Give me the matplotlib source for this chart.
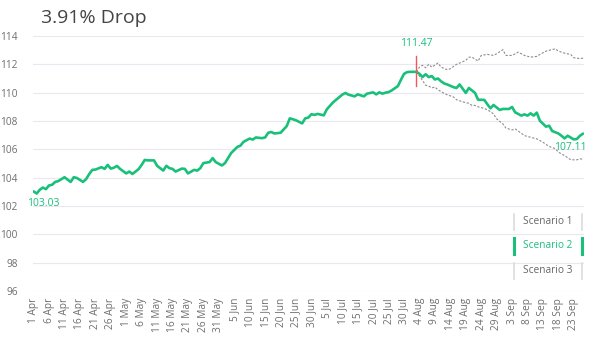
import numpy as np
import pandas as pd
import matplotlib
matplotlib.use("Agg")
import matplotlib.pyplot as plt

plt.rcParams['font.family'] = ['Open Sans', 'DejaVu Sans']

# start of the series
start = pd.Timestamp("2024-04-01")

# actual index (scenario 2 history + projection), day offset from 1 Apr
green_days = [0, 1, 2, 3, 4, 5, 6, 7, 8, 10, 12, 13, 14, 16, 17, 18, 19, 20, 22, 23,
              24, 25, 26, 27, 28, 30, 31, 32, 34, 35, 36, 37, 39, 40, 42, 43, 44, 45, 46, 48,
              49, 50, 52, 53, 54, 55, 57, 58, 59, 61, 62, 64, 66, 67, 68, 70, 71, 72, 73, 74,
              75, 76, 77, 78, 80, 82, 83, 85, 87, 88, 89, 90, 91, 92, 94, 95, 97, 98, 100, 101,
              102, 104, 105, 107, 108, 110, 111, 112, 113, 114, 115, 116, 118, 119, 120, 121, 122, 124,
              125, 126, 127, 128, 129, 130, 131, 132, 133, 134, 136, 137, 138, 140, 141, 143, 144, 146,
              147, 148, 149, 151, 152, 154, 155, 156, 158, 159, 160, 161, 162, 163, 164, 166, 167, 168,
              170, 171, 172, 173, 175, 176, 177, 178]
green_vals = [103.03, 102.88, 103.15, 103.30, 103.19, 103.45, 103.50, 103.70, 103.76, 104.03,
              103.70, 104.03, 103.98, 103.70, 103.90, 104.25, 104.55, 104.57, 104.74, 104.62,
              104.90, 104.64, 104.70, 104.83, 104.62, 104.30, 104.43, 104.26, 104.60, 104.90,
              105.25, 105.22, 105.22, 104.84, 104.50, 104.84, 104.67, 104.62, 104.43, 104.64,
              104.62, 104.30, 104.55, 104.50, 104.67, 105.03, 105.10, 105.38, 105.10, 104.86,
              105.03, 105.74, 106.17, 106.26, 106.53, 106.76, 106.69, 106.84, 106.81, 106.79,
              106.84, 107.17, 107.22, 107.12, 107.17, 107.64, 108.19, 108.05, 107.83, 108.19,
              108.24, 108.48, 108.43, 108.50, 108.40, 108.83, 109.31, 109.50, 109.86, 109.98,
              109.86, 109.74, 109.88, 109.74, 109.93, 110.02, 109.88, 110.02, 109.93, 110.00,
              110.04, 110.16, 110.46, 110.91, 111.33, 111.45, 111.47, 111.47,
              111.33, 111.10, 111.30, 111.10, 111.17, 110.93, 111.00, 110.80, 110.65, 110.58,
              110.39, 110.33, 110.58, 109.98, 110.33, 109.98, 109.50, 109.49,
              109.18, 108.90, 109.13, 108.78, 108.85, 108.85, 108.99, 108.61, 108.38, 108.47,
              108.38, 108.54, 108.38, 108.59, 108.02, 107.60, 107.67, 107.29,
              107.12, 106.96, 106.77, 106.96, 106.70, 106.73, 106.96, 107.11]

# scenario 1 (upper) and scenario 3 (lower) projections from the peak
s1_days = [124, 125, 126, 127, 128, 129, 131, 132, 134, 135, 137, 138, 140, 141, 142, 144, 145,
           147, 149, 150, 152, 153, 155, 157, 159, 161, 163, 164, 166, 169, 170, 172, 174, 175,
           177, 178]
s1_vals = [111.47, 111.80, 111.93, 111.76, 112.00, 111.80, 112.09, 111.80, 111.62, 111.69,
           112.00, 112.09, 112.28, 112.50, 112.51, 112.23, 112.63, 112.70, 112.63, 112.75,
           113.03, 112.63, 112.63, 112.86, 112.63, 112.51, 112.56, 112.70, 112.93, 113.10,
           112.93, 112.79, 112.70, 112.47, 112.40, 112.44]

s3_days = [124, 125, 126, 127, 128, 129, 130, 131, 133, 134, 136, 137, 139, 141, 142, 143, 144,
           145, 147, 149, 150, 152, 153, 155, 156, 158, 159, 161, 163, 165, 167, 169, 170, 172,
           174, 176, 177, 178]
s3_vals = [111.47, 111.17, 110.86, 110.53, 110.46, 110.34, 110.40, 110.20, 109.95, 109.85,
           109.70, 109.50, 109.35, 109.25, 109.10, 109.10, 109.00, 108.95, 108.80, 108.50,
           108.15, 107.80, 107.50, 107.37, 107.44, 107.13, 106.97, 106.85, 106.74, 106.50,
           106.20, 106.05, 105.80, 105.56, 105.26, 105.26, 105.33, 105.30]

peak_day = 124
peak_val = 111.47

# x tick labels every 5 days
tick_days = list(range(0, 176, 5))
tick_labels = [f"{(start + pd.Timedelta(days=d)).day} {(start + pd.Timedelta(days=d)).strftime('%b')}"
               for d in tick_days]
y_ticks = list(range(96, 115, 2))

green = '#19c07a'
grey_text = '#6e6e6e'

fig = plt.figure(figsize=(6, 3.42), dpi=100)
ax = fig.add_axes([33 / 600, 1 - 291 / 342, 551 / 600, 255 / 342])

ax.plot(s1_days, s1_vals, color='#8c8c8c', lw=0.8, ls=(0, (2, 1.5)), zorder=2)
ax.plot(s3_days, s3_vals, color='#8c8c8c', lw=0.8, ls=(0, (2, 1.5)), zorder=2)
ax.plot(green_days, green_vals, color=green, lw=1.9, zorder=3,
        solid_joinstyle='round', solid_capstyle='round')

# marker where the scenarios split
ax.plot([peak_day, peak_day], [peak_val - 1.0, peak_val + 1.1], color='#f0575a', lw=1.0, zorder=4)

ax.text(peak_day, 113.5, f"{peak_val:.2f}", color=green, fontsize=7.5, ha='center', va='center')
ax.text(3, 102.2, f"{green_vals[0]:.2f}", color=green, fontsize=7.5, ha='center', va='center')
ax.text(174, 106.1, f"{green_vals[-1]:.2f}", color=green, fontsize=7.5, ha='center', va='center')

ax.set_xlim(-0.2, 178.3)
ax.set_ylim(96, 114)
ax.set_yticks(y_ticks)
ax.set_yticklabels([str(v) for v in y_ticks])
ax.set_xticks(tick_days)
ax.set_xticklabels(tick_labels, rotation=90)
ax.tick_params(axis='both', length=0, labelsize=7.3, colors=grey_text)
ax.tick_params(axis='y', pad=11)
ax.tick_params(axis='x', pad=5)
ax.grid(axis='y', color='#ebe6f0', lw=0.8)
ax.set_axisbelow(True)
for s in ax.spines.values():
    s.set_visible(False)

fig.text(41 / 600, 1 - 18 / 342, "3.91% Drop", fontsize=14, color='#444444',
         ha='left', va='center')

# scenario selector
names = ["Scenario 1", "Scenario 2", "Scenario 3"]
rows_y = [221.5, 246, 270.5]
for name, yy in zip(names, rows_y):
    on = name == "Scenario 2"
    c = green if on else '#666666'
    bar = green if on else '#dcdcdc'
    bw = 2.2 if on else 1.2
    yf = 1 - yy / 342
    for xx in (513.5, 581.5):
        fig.add_artist(plt.Line2D([xx / 600, xx / 600], [yf - 8 / 342, yf + 8 / 342],
                                  color=bar, lw=bw))
    fig.text(547.5 / 600, yf, name, fontsize=7.3, color=c, ha='center', va='center')

fig.savefig("out.png", dpi=100, facecolor='white')
